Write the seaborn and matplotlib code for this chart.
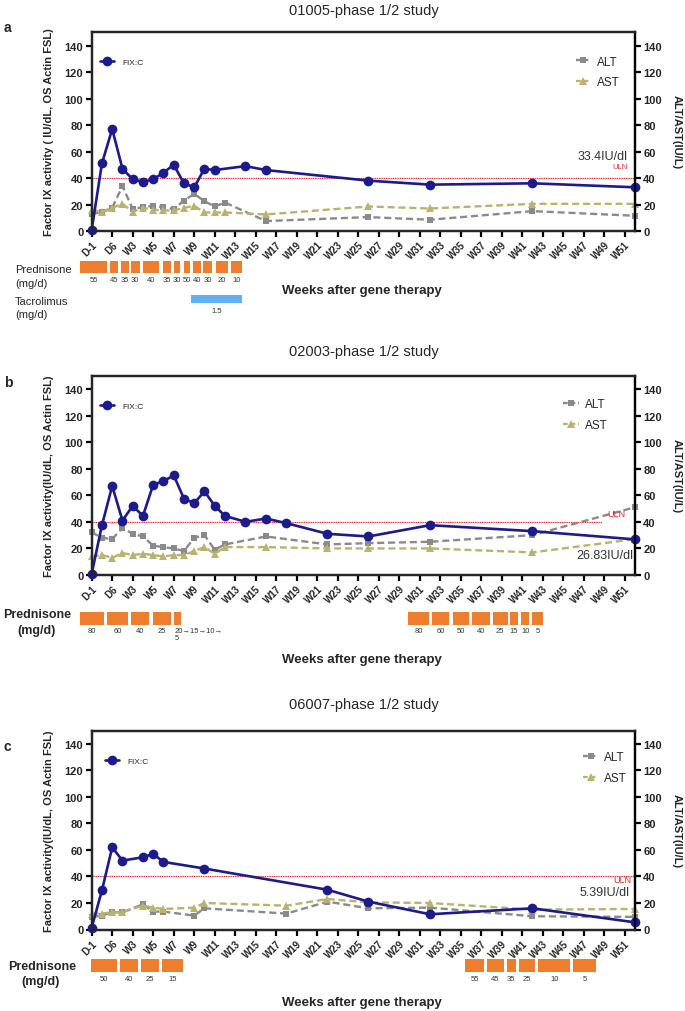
import matplotlib
matplotlib.use("Agg")
import matplotlib.pyplot as plt
from matplotlib.lines import Line2D
import seaborn as sns

# ---------------- data (x in weeks, D-1 = -1) ----------------
tick_weeks = [-1, 1, 3, 5, 7, 9, 11, 13, 15, 17, 19, 21, 23, 25, 27, 29, 31, 33, 35,
              37, 39, 41, 43, 45, 47, 49, 51]
tick_labels = ["D-1", "D6", "W3", "W5", "W7", "W9", "W11", "W13", "W15", "W17", "W19",
               "W21", "W23", "W25", "W27", "W29", "W31", "W33", "W35", "W37", "W39",
               "W41", "W43", "W45", "W47", "W49", "W51"]
y_ticks = [0, 20, 40, 60, 80, 100, 120, 140]

# panel a : 01005
fix_a_weeks = [-1, 0, 1, 2, 3, 4, 5, 6, 7, 8, 9, 10, 11, 14, 16, 26, 32, 42, 52]
fix_a = [1, 51, 77, 47, 39, 37, 39, 44, 50, 36, 33, 47, 46, 49, 46, 38, 35, 36, 33]
liver_a_weeks = [-1, 0, 1, 2, 3, 4, 5, 6, 7, 8, 9, 10, 11, 12, 16, 26, 32, 42, 52]
alt_a = [13, 14, 17.5, 34, 16.5, 18, 19, 18, 16.5, 23, 28, 22.5, 18.5, 21.5, 7.5, 10.5, 8.5, 15, 11.5]
ast_a = [16, 14.5, 17.5, 20.5, 14.5, 17.5, 16, 15.5, 15.5, 17.5, 19, 14, 14, 14, 12.5, 18.5, 17, 20.5, 20.5]
pred_a_start = [-2.1, 0.8, 1.9, 2.8, 4.0, 6.0, 7.0, 8.0, 8.9, 9.9, 11.1, 12.6]
pred_a_end = [0.5, 1.6, 2.6, 3.7, 5.6, 6.7, 7.6, 8.6, 9.7, 10.7, 12.3, 13.7]
pred_a_dose = ["55", "45", "35", "30", "40", "35", "30", "50", "40", "30", "20", "10"]
tac_a_start = [8.7]
tac_a_end = [13.7]
tac_a_dose = ["1.5"]

# panel b : 02003
fix_b_weeks = [-1, 0, 1, 2, 3, 4, 5, 6, 7, 8, 9, 10, 11, 12, 14, 16, 18, 22, 26, 32, 42, 52]
fix_b = [1, 37.5, 67, 41, 52, 44.5, 68, 70.5, 75, 57.5, 54, 63, 52, 44.5, 40, 42.5, 39, 31, 29, 37.5, 33, 26.8]
liver_b_weeks = [-1, 0, 1, 2, 3, 4, 5, 6, 7, 8, 9, 10, 11, 12, 16, 22, 26, 32, 42, 52]
alt_b = [32, 28, 27, 35.5, 31, 29, 22, 21, 20, 18, 28, 30, 19, 23, 29, 23, 24, 25, 30, 51]
ast_b = [14, 15, 13, 16.5, 15, 16, 15, 14, 15, 15, 18, 21, 16, 21, 21, 20, 20, 20, 17, 27]
pred_b_start = [-2.1, 0.5, 2.8, 5.0, 7.0, 29.9, 32.2, 34.2, 36.1, 38.1, 39.8, 40.9, 42.0]
pred_b_end = [0.2, 2.5, 4.6, 6.7, 7.7, 31.9, 33.9, 35.8, 37.9, 39.6, 40.6, 41.7, 43.0]
pred_b_dose = ["80", "60", "40", "25", "20\u219215\u219210\u2192\n5",
               "80", "60", "50", "40", "25", "15", "10", "5"]

# panel c : 06007
fix_c_weeks = [-1, 0, 1, 2, 4, 5, 6, 10, 22, 26, 32, 42, 52]
fix_c = [1.5, 29.5, 62, 52, 54.5, 57, 51, 46, 30, 21, 11.5, 16, 5.4]
liver_c_weeks = [-1, 0, 1, 2, 4, 5, 6, 9, 10, 18, 22, 26, 32, 42, 52]
alt_c = [9.5, 10.5, 13, 13, 19, 13.5, 13.5, 10.5, 16, 12, 21, 16, 16.5, 10, 9.5]
ast_c = [12, 12, 13, 13, 18, 16.5, 15.5, 16.5, 20, 18, 23, 20.5, 20, 15, 15.5]
pred_c_start = [-1.1, 1.8, 3.8, 5.9, 35.4, 37.6, 39.5, 40.65, 42.56, 45.98]
pred_c_end = [1.5, 3.5, 5.6, 7.9, 37.3, 39.2, 40.35, 42.27, 45.67, 48.15]
pred_c_dose = ["50", "40", "25", "15", "55", "45", "35", "25", "10", "5"]

# ---------------- style ----------------
sns.set_theme(style="ticks")
plt.rcParams["font.family"] = ["Liberation Sans", "DejaVu Sans"]
plt.rcParams["axes.linewidth"] = 1.6

NAVY = "#1b1b8e"
GRAY = "#8a8a8a"
OLIVE = "#b9b36f"
ORANGE = "#ef7d2e"
SKY = "#5fb0f5"
RED = "#e8242a"

W, H = 685, 1012
AX_L, AX_R = 91.7, 635

fig = plt.figure(figsize=(W / 100, H / 100), dpi=100)


def px_axes(left, top, right, bottom):
    return fig.add_axes([left / W, 1 - bottom / H, (right - left) / W, (bottom - top) / H])


def ftext(x, y, s, **kw):
    fig.text(x / W, 1 - y / H, s, **kw)


def draw_panel(top, bottom, fix_w, fix_v, liv_w, alt_v, ast_v, fix_leg, liv_leg, uln_xmax):
    ax = px_axes(AX_L, top, AX_R, bottom)
    sns.lineplot(x=liv_w, y=alt_v, ax=ax, color=GRAY, marker="s", markersize=5,
                 markeredgewidth=0, linewidth=1.7, linestyle=(0, (3, 1.6)),
                 legend=False, clip_on=False, zorder=3)
    sns.lineplot(x=liv_w, y=ast_v, ax=ax, color=OLIVE, marker="^", markersize=5.5,
                 markeredgewidth=0, linewidth=1.7, linestyle=(0, (3, 1.6)),
                 legend=False, clip_on=False, zorder=3)
    sns.lineplot(x=fix_w, y=fix_v, ax=ax, color=NAVY, marker="o", markersize=7,
                 markeredgewidth=0, linewidth=1.9, legend=False, clip_on=False, zorder=4)
    ax.axhline(40, xmin=0, xmax=uln_xmax, color=RED, linestyle=(0, (1, 0.6)),
               linewidth=0.8, zorder=2)

    ax.set_xlim(-1, 52)
    ax.set_ylim(0, 150)
    ax.set_yticks(y_ticks)
    ax.set_yticklabels([str(v) for v in y_ticks], fontsize=8, fontweight="bold")
    ax.set_xticks(tick_weeks)
    ax.set_xticklabels(tick_labels, rotation=45, ha="right", rotation_mode="anchor",
                       fontsize=7, fontweight="bold")
    ax.tick_params(axis="both", direction="out", length=4, width=1.6, pad=2, color="black")
    ax.set_xlabel("")
    ax.set_ylabel("")
    for sp in ax.spines.values():
        sp.set_visible(True)
        sp.set_color("black")
        sp.set_linewidth(1.6)

    ax2 = ax.twinx()
    ax2.set_ylim(0, 150)
    ax2.set_yticks(y_ticks)
    ax2.set_yticklabels([str(v) for v in y_ticks], fontsize=8, fontweight="bold")
    ax2.tick_params(axis="y", direction="out", length=4, width=1.6, pad=2, color="black")
    ax2.spines["right"].set_linewidth(1.6)
    ax2.spines["right"].set_color("black")

    fix_h = Line2D([], [], color=NAVY, marker="o", markersize=7, markeredgewidth=0, linewidth=1.9)
    leg1 = ax.legend([fix_h], ["FIX:C"], loc="center left", bbox_to_anchor=fix_leg,
                     frameon=False, fontsize=6, handlelength=1.7, handletextpad=1.0,
                     borderpad=0, borderaxespad=0)
    ax.add_artist(leg1)
    alt_h = Line2D([], [], color=GRAY, marker="s", markersize=5, markeredgewidth=0,
                   linewidth=1.7, linestyle=(0, (2, 1.2)))
    ast_h = Line2D([], [], color=OLIVE, marker="^", markersize=5.5, markeredgewidth=0,
                   linewidth=1.7, linestyle=(0, (2, 1.2)))
    ax.legend([alt_h, ast_h], ["ALT", "AST"], loc="center right", bbox_to_anchor=liv_leg,
              frameon=False, fontsize=8.5, handlelength=1.3, handletextpad=0.5,
              labelspacing=0.75, borderpad=0, borderaxespad=0)
    return ax


def draw_bars(row_top, row_bot, starts, ends, doses, color, y_bar, bar_h, y_lab):
    bx = px_axes(AX_L, row_top, AX_R, row_bot)
    bx.set_xlim(-1, 52)
    bx.set_ylim(row_bot, row_top)
    bx.axis("off")
    widths = [e - s for s, e in zip(starts, ends)]
    bars = bx.barh([y_bar] * len(starts), widths, left=starts, height=bar_h, color=color,
                   linewidth=0)
    for b in bars:
        b.set_clip_on(False)
    for s, e, d in zip(starts, ends, doses):
        if "\n" in d:
            bx.text(s + 0.1, y_lab - 4, d, ha="left", va="top", fontsize=5.5,
                    color="#333333", linespacing=1.0, clip_on=False)
        else:
            bx.text((s + e) / 2, y_lab, d, ha="center", va="center", fontsize=5.5,
                    color="#333333", clip_on=False)


# ---------------- panel a ----------------
draw_panel(33.3, 232, fix_a_weeks, fix_a, liver_a_weeks, alt_a, ast_a,
           (0.015, 0.85), (0.972, 0.80), 1.0)
draw_bars(255, 320, pred_a_start, pred_a_end, pred_a_dose, ORANGE, 268, 12, 281)
draw_bars(255, 320, tac_a_start, tac_a_end, tac_a_dose, SKY, 300, 8, 311.7)
ftext(364, 11, "01005-phase 1/2 study", ha="center", va="center", fontsize=10.5)
ftext(4, 28, "a", ha="left", va="center", fontsize=10, fontweight="bold")
ftext(49, 132, "Factor IX activity ( IU/dL, OS Actin FSL)", rotation=90, ha="center",
      va="center", fontsize=8, fontweight="bold")
ftext(677, 132, "ALT/AST(IU/L)", rotation=270, ha="center", va="center", fontsize=8,
      fontweight="bold")
ftext(628, 156.7, "33.4IU/dl", ha="right", va="center", fontsize=9, color="#333333")
ftext(628, 167.7, "ULN", ha="right", va="center", fontsize=5.5, color=RED)
ftext(15, 270, "Prednisone", ha="left", va="center", fontsize=8)
ftext(15, 284, "(mg/d)", ha="left", va="center", fontsize=8)
ftext(15, 301.7, "Tacrolimus", ha="left", va="center", fontsize=8)
ftext(15, 315, "(mg/d)", ha="left", va="center", fontsize=8)
ftext(362, 291, "Weeks after gene therapy", ha="center", va="center", fontsize=9.5,
      fontweight="bold")

# ---------------- panel b ----------------
draw_panel(376.7, 576, fix_b_weeks, fix_b, liver_b_weeks, alt_b, ast_b,
           (0.015, 0.848), (0.949, 0.805), 0.939)
draw_bars(605, 650, pred_b_start, pred_b_end, pred_b_dose, ORANGE, 619.5, 13, 632)
ftext(364, 351.7, "02003-phase 1/2 study", ha="center", va="center", fontsize=10.5)
ftext(4, 383, "b", ha="left", va="center", fontsize=10, fontweight="bold")
ftext(49, 476, "Factor IX activity(IU/dL, OS Actin FSL)", rotation=90, ha="center",
      va="center", fontsize=8, fontweight="bold")
ftext(677, 476, "ALT/AST(IU/L)", rotation=270, ha="center", va="center", fontsize=8,
      fontweight="bold")
ftext(625, 514.3, "ULN", ha="right", va="center", fontsize=6.5, color=RED)
ftext(633, 555.7, "26.83IU/dl", ha="right", va="center", fontsize=9, color="#333333")
ftext(37, 615, "Prednisone", ha="center", va="center", fontsize=9, fontweight="bold")
ftext(37, 631, "(mg/d)", ha="center", va="center", fontsize=9, fontweight="bold")
ftext(362, 660, "Weeks after gene therapy", ha="center", va="center", fontsize=9.5,
      fontweight="bold")

# ---------------- panel c ----------------
draw_panel(731.7, 930.5, fix_c_weeks, fix_c, liver_c_weeks, alt_c, ast_c,
           (0.025, 0.848), (0.985, 0.814), 1.0)
draw_bars(950, 995, pred_c_start, pred_c_end, pred_c_dose, ORANGE, 966.5, 13, 980)
ftext(364, 705, "06007-phase 1/2 study", ha="center", va="center", fontsize=10.5)
ftext(4, 747, "c", ha="left", va="center", fontsize=10, fontweight="bold")
ftext(49, 831, "Factor IX activity(IU/dL, OS Actin FSL)", rotation=90, ha="center",
      va="center", fontsize=8, fontweight="bold")
ftext(677, 831, "ALT/AST(IU/L)", rotation=270, ha="center", va="center", fontsize=8,
      fontweight="bold")
ftext(631.7, 880.7, "ULN", ha="right", va="center", fontsize=6.5, color=RED)
ftext(630, 893.3, "5.39IU/dl", ha="right", va="center", fontsize=9, color="#333333")
ftext(42, 967, "Prednisone", ha="center", va="center", fontsize=9, fontweight="bold")
ftext(41, 982, "(mg/d)", ha="center", va="center", fontsize=9, fontweight="bold")
ftext(362, 1003, "Weeks after gene therapy", ha="center", va="center", fontsize=9.5,
      fontweight="bold")

fig.savefig("out.png", dpi=100)
